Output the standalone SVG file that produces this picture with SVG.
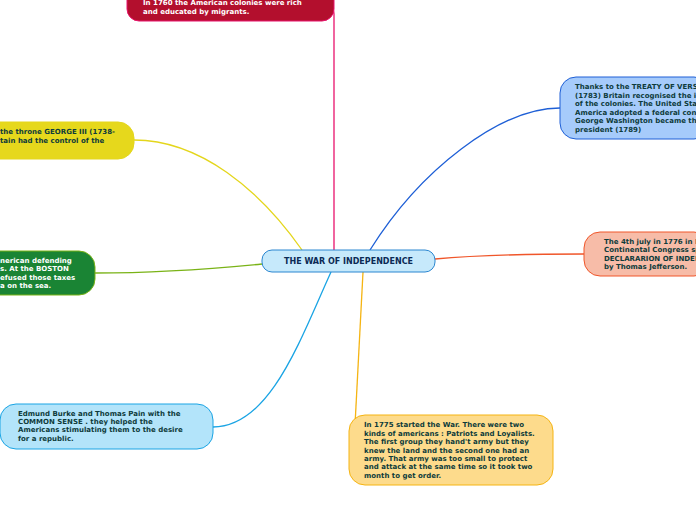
<svg xmlns="http://www.w3.org/2000/svg" width="696" height="520" viewBox="0 0 696 520">
<style>
text{font-family:"DejaVu Sans",Verdana,sans-serif;font-weight:bold;font-size:7px;fill:#0e3b3b}
.w{fill:#ffffff}
.c{fill:none;stroke-width:1.3}
</style>
<rect width="696" height="520" fill="#fff"/>
<g id="connectors">
<path class="c" stroke="#e8136c" d="M334,250 V14 Q334,8 330,6"/>
<path class="c" stroke="#e4d61c" d="M302,250 C260,190 200,140 134,140"/>
<path class="c" stroke="#7ab317" d="M262,264 C200,270 150,273 95,273"/>
<path class="c" stroke="#1aa4e4" d="M331,272 C300,340 270,427 213,427"/>
<path class="c" stroke="#1e5fd6" d="M370,250 C420,170 500,108 560,108"/>
<path class="c" stroke="#f0562a" d="M435,259 C480,255 530,254 584,254"/>
<path class="c" stroke="#f5b412" d="M363,272 C360,330 357,380 355,425"/>
</g>
<g id="n-red"><rect x="127" y="-12" width="207" height="33" rx="12" fill="#b30f2d" stroke="#e8136c"/>
<text class="w" x="143" y="5">In 1760 the American colonies were rich</text><text class="w" x="143" y="14">and educated by migrants.</text></g>
<g id="n-yellow"><rect x="-20" y="122" width="154" height="37" rx="16" fill="#e6d81c" stroke="#e4d61c"/>
<text x="0" y="134">the throne GEORGE III (1738-</text><text x="0" y="143">tain had the control of the</text></g>
<g id="n-green"><rect x="-20" y="251" width="115" height="44" rx="16" fill="#1a8434" stroke="#7ab317"/>
<text class="w" x="0" y="263">nerican defending</text><text class="w" x="0" y="271">s. At the BOSTON</text><text class="w" x="0" y="280">efused those taxes</text><text class="w" x="0" y="288">a on the sea.</text></g>
<g id="n-lightblue"><rect x="0" y="404" width="213" height="45" rx="16" fill="#b3e4fa" stroke="#1aa4e4"/>
<text x="18" y="416">Edmund Burke and Thomas Pain with the</text><text x="18" y="424">COMMON SENSE . they helped the</text><text x="18" y="432">Americans stimulating them to the desire</text><text x="18" y="441">for a republic.</text></g>
<g id="n-center"><rect x="262" y="250" width="173" height="22" rx="10" fill="#c6e9fb" stroke="#2a86d0"/>
<text x="348.5" y="264" text-anchor="middle" style="font-size:8px;fill:#0b2a55">THE WAR OF INDEPENDENCE</text></g>
<g id="n-blue"><rect x="560" y="77" width="150" height="62" rx="16" fill="#a6cbfb" stroke="#1e5fd6"/>
<text x="575" y="89">Thanks to the TREATY OF VERSAILLES</text><text x="575" y="98">(1783) Britain recognised the independence</text><text x="575" y="106">of the colonies.  The United States of</text><text x="575" y="115">America adopted a federal constitution.</text><text x="575" y="123">George Washington became the first</text><text x="575" y="132">president (1789)</text></g>
<g id="n-salmon"><rect x="584" y="232" width="126" height="44" rx="16" fill="#f7bca8" stroke="#f0562a"/>
<text x="604" y="244">The 4th july in 1776 in Philadelphia the</text><text x="604" y="252">Continental Congress spoke the</text><text x="604" y="261">DECLARARION OF INDEPENDENCE written</text><text x="604" y="269">by Thomas Jefferson.</text></g>
<g id="n-orange"><rect x="349" y="415" width="204" height="70" rx="16" fill="#fddb8c" stroke="#f5b412"/>
<text x="364" y="427">In 1775 started the War. There were two</text><text x="364" y="436">kinds of americans : Patriots and Loyalists.</text><text x="364" y="444">The first group they hand't army but they</text><text x="364" y="453">knew the land and the second one had an</text><text x="364" y="461">army. That army was too small to protect</text><text x="364" y="469">and attack at the same time so it took two</text><text x="364" y="478">month to get order.</text></g>
</svg>
